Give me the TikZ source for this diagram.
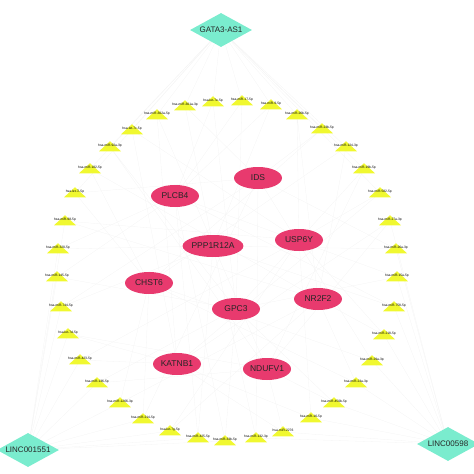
\documentclass[tikz,border=0pt]{standalone}
\usepackage{fontspec}
\setmainfont{Liberation Sans}
\usetikzlibrary{shapes.geometric,backgrounds}

\definecolor{lncfill}{RGB}{122,236,206}
\definecolor{genefill}{RGB}{232,58,110}
\definecolor{mirfill}{RGB}{240,248,48}

\tikzset{
	lncrna/.style={diamond,aspect=1.8,draw=none,fill=lncfill,minimum width=62pt,minimum height=34pt,inner sep=0pt,font=\fontsize{8}{8}\selectfont,text=black!85},
	gene/.style={ellipse,draw=none,fill=genefill,minimum width=48pt,minimum height=22pt,inner sep=0pt,font=\fontsize{8.5}{8.5}\selectfont,text=black!85},
	mirna/.style={isosceles triangle,shape border rotate=90,isosceles triangle stretches,draw=none,fill=mirfill,minimum width=22pt,minimum height=10pt,inner sep=0pt,outer sep=0pt},
	mirlbl/.style={inner sep=0pt,font=\fontsize{3.3}{3.3}\selectfont},
	link/.style={draw=gray!9,line width=0.3pt}
}

\begin{document}
\begin{tikzpicture}[x=1pt,y=-1pt]
									\useasboundingbox (0,0) rectangle (474,474);
									
									\node[lncrna](L1) at (221,30) {GATA3-AS1};
									\node[lncrna](L2) at (28,450) {LINC001551};
									\node[lncrna](L3) at (448,444) {LINC00598};
									
									\foreach \x/\y/\g [count=\n] in
									{258/178/IDS,175/196/PLCB4,213/246/PPP1R12A,299/240/USP6Y,149/283/CHST6,
									 318/299/NR2F2,236/309/GPC3,177/364/KATNB1,267/369/NDUFV1}
										\node[gene](G\n) at (\x,\y) {\g};
									
									\foreach \x/\y/\l [count=\n] in
									{242/101/hsa-miR-17-5p,271/105/hsa-miR-9-5p,297/115/hsa-miR-26b-5p,322/129/hsa-miR-23b-5p,
									 346/147/hsa-miR-124-3p,364/169/hsa-miR-19b-5p,380/193/hsa-miR-582-5p,390/221/hsa-miR-27a-3p,
									 396/249/hsa-miR-26a-3p,397/277/hsa-miR-15a-5p,394/307/hsa-miR-758-5p,384/335/hsa-miR-218-5p,
									 372/361/hsa-miR-29a-3p,356/383/hsa-miR-23a-3p,334/403/hsa-miR-450b-5p,311/418/hsa-miR-16-5p,
									 283/432/hsa-miR-2276,256/438/hsa-miR-132-3p,225/441/hsa-miR-33b-5p,198/438/hsa-miR-425-5p,
									 170/431/hsa-let-7g-5p,143/419/hsa-miR-214-5p,120/403/hsa-miR-1266-3p,97/383/hsa-miR-136-5p,
									 80/360/hsa-miR-423-5p,68/334/hsa-let-7d-5p,61/307/hsa-miR-744-5p,57/277/hsa-miR-145-5p,
									 58/249/hsa-miR-320-5p,65/221/hsa-miR-98-5p,75/193/hsa-let-7i-5p,90/169/hsa-miR-182-5p,
									 110/147/hsa-miR-92a-3p,132/130/hsa-let-7c-5p,157/115/hsa-miR-302a-5p,185/106/hsa-miR-301a-3p,
									 213/102/hsa-let-7e-5p}
									{
										\node[mirna](M\n) at (\x,\y) {};
										\node[mirlbl](T\n) at (\x,\y-1.5) {\l};
									}
									
									\begin{scope}[on background layer]
										\foreach \n in {1,...,7,31,32,...,37}
											\path[link] (L1) -- (M\n);
										\foreach \n in {19,...,30}
											\path[link] (L2) -- (M\n);
										\foreach \n in {8,...,18}
											\path[link] (L3) -- (M\n);
										\foreach \n in {1,...,37}
										{
											\pgfmathtruncatemacro\ga{mod(\n,9)+1}
											\pgfmathtruncatemacro\gb{mod(4*\n+2,9)+1}
											\path[link] (M\n) -- (G\ga) (M\n) -- (G\gb);
										}
									\end{scope}
\end{tikzpicture}
\end{document}
